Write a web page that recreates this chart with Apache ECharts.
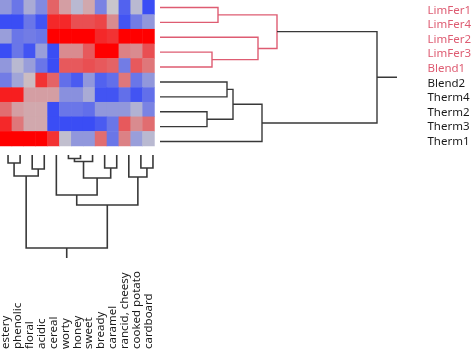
<!DOCTYPE html>
<html>
<head>
<meta charset="utf-8">
<script src="https://cdn.jsdelivr.net/npm/echarts@6/dist/echarts.min.js"></script>
<style>
  html, body { margin: 0; padding: 0; background: #fff; }
  #chart { width: 474px; height: 352px; }
</style>
</head>
<body>
<div id="chart"></div>
<script>
// rows / columns in display order
const rowNames = ['LimFer1', 'LimFer4', 'LimFer2', 'LimFer3', 'Blend1', 'Blend2', 'Therm4', 'Therm2', 'Therm3', 'Therm1']
const colNames = ['estery', 'phenolic', 'floral', 'acidic', 'cereal', 'worty', 'honey', 'sweet', 'bready', 'caramel', 'rancid, cheesy', 'cooked potato', 'cardboard']

// scaled scores, -1 (blue) .. 1 (red), one array per row
const scores = [
  [-0.35, -0.6, -0.2, -0.45, 0.5, 0.2, -0.1, 0.15, -0.5, 0.0, -0.75, -0.1, -0.9],
  [-0.9, -0.9, -0.6, -0.85, 0.8, 0.8, 0.6, 0.6, 0.65, 0.3, -0.85, -0.55, -0.35],
  [-0.3, -0.6, -0.55, -0.6, 1, 1, 1, 1, 0.8, 0.75, 1, 1, 1],
  [-0.9, -0.6, -0.85, -0.3, -0.9, 0.3, 0.3, 0.55, 1, 1, 0.35, 0.3, 0.6],
  [-0.35, -0.1, -0.3, -0.6, -0.9, 0.55, 0.55, 0.6, 0.55, 0.5, -0.55, 0.55, 0.4],
  [-0.55, -0.25, 0.05, 0.75, 0.5, -0.65, -0.8, -0.35, -0.75, -0.65, 0.4, -0.6, -0.35],
  [0.85, 0.85, 0.2, 0.2, 0.2, -0.4, -0.4, -0.2, -0.85, -0.85, -0.65, -0.85, -0.65],
  [0.45, 0.2, 0.15, 0.15, -0.9, -0.6, -0.6, -0.65, -0.35, -0.35, -0.35, -0.15, -0.5],
  [0.8, 0.4, 0.15, 0.15, -0.9, -0.9, -0.9, -0.9, -0.8, -0.6, 0.55, 0.3, 0.45],
  [1, 1, 1, 1, 0.75, -0.05, -0.35, -0.35, 0.45, -0.6, 0.35, -0.3, -0.1]
]

// linkage: [childA, childB, height]; leaves are 0..n-1, merge k is node n+k
const rowLinks = [
  [0, 1, 58], [3, 4, 52], [2, 11, 98], [10, 12, 117],
  [5, 6, 67], [7, 8, 47], [14, 15, 73], [16, 9, 102],
  [13, 17, 217]
]
const colLinks = [
  [0, 1, 8], [2, 3, 14], [13, 14, 21],
  [5, 6, 3.5], [16, 7, 6.5], [8, 9, 13], [17, 18, 23], [4, 19, 40],
  [11, 12, 13], [10, 21, 22], [20, 22, 50],
  [15, 23, 93]
]
const rowStubEnd = 237
const colStubEnd = 103
const redRows = ['LimFer1', 'LimFer4', 'LimFer2', 'LimFer3', 'Blend1']

const RED = '#de5c72'
const DARK = '#383838'

// dendrogram segments in (pos, height) pairs
function dendro(links, n, colorOf) {
  let pos = []
  let h = []
  let leaves = []
  for (let i = 0; i < n; i++) {
    pos[i] = i
    h[i] = 0
    leaves[i] = [i]
  }
  let segs = []
  links.forEach(function (l, k) {
    let a = l[0], b = l[1], node = n + k
    pos[node] = (pos[a] + pos[b]) / 2
    h[node] = l[2]
    leaves[node] = leaves[a].concat(leaves[b])
    segs.push({
      pts: [[pos[a], h[a]], [pos[a], l[2]], [pos[b], l[2]], [pos[b], h[b]]],
      color: colorOf(leaves[node], node === n + links.length - 1)
    })
  })
  let root = n + links.length - 1
  return {segs: segs, rootPos: pos[root], rootH: h[root]}
}

const rowTree = dendro(rowLinks, rowNames.length, function (lv, isRoot) {
  if (isRoot) return DARK
  return lv.every(function (i) { return redRows.indexOf(rowNames[i]) !== -1 }) ? RED : DARK
})
const colTree = dendro(colLinks, colNames.length, function () { return DARK })

let rowLines = rowTree.segs.map(function (s) {
  return {coords: s.pts.map(function (p) { return [p[1], p[0]] }), lineStyle: {color: s.color}}
})
rowLines.push({coords: [[rowTree.rootH, rowTree.rootPos], [rowStubEnd, rowTree.rootPos]], lineStyle: {color: DARK}})

let colLines = colTree.segs.map(function (s) {
  return {coords: s.pts, lineStyle: {color: s.color}}
})
colLines.push({coords: [[colTree.rootPos, colTree.rootH], [colTree.rootPos, colStubEnd]], lineStyle: {color: DARK}})

let heatData = []
scores.forEach(function (row, r) {
  row.forEach(function (v, c) {
    heatData.push([c, r, v])
  })
})

const FONT = 'Noto Sans'
let chart = echarts.init(document.getElementById('chart'))
chart.setOption({
  animation: false,
  grid: [
    {left: 0, top: 0, width: 160, height: 149},
    {left: 160, top: 0, width: 237, height: 149},
    {left: 2, top: 155, width: 157, height: 103}
  ],
  xAxis: [
    {
      type: 'category', gridIndex: 0, data: colNames, position: 'bottom',
      axisLine: {show: false}, axisTick: {show: false}, splitLine: {show: false},
      axisLabel: {
        rotate: 90, interval: 0, align: 'left', verticalAlign: 'middle', margin: 203,
        fontFamily: FONT, fontSize: 11.5, color: '#1a1a1a'
      }
    },
    {type: 'value', gridIndex: 1, min: 0, max: rowStubEnd, show: false},
    {type: 'value', gridIndex: 2, min: -0.5, max: colNames.length - 0.5, show: false}
  ],
  yAxis: [
    {
      type: 'category', gridIndex: 0, data: rowNames, inverse: true, position: 'right',
      axisLine: {show: false}, axisTick: {show: false}, splitLine: {show: false},
      axisLabel: {
        interval: 0, align: 'left', verticalAlign: 'middle', margin: 273,
        formatter: function (v) {
          return (redRows.indexOf(v) !== -1 ? '{r|' : '{k|') + v + '}'
        },
        rich: {
          r: {color: RED, fontFamily: FONT, fontSize: 11.5, padding: [6, 0, 0, 0]},
          k: {color: '#1a1a1a', fontFamily: FONT, fontSize: 11.5, padding: [6, 0, 0, 0]}
        }
      }
    },
    {type: 'value', gridIndex: 1, min: -0.5, max: rowNames.length - 0.5, inverse: true, show: false},
    {type: 'value', gridIndex: 2, min: 0, max: colStubEnd, inverse: true, show: false}
  ],
  visualMap: {
    show: false, min: -1, max: 1, dimension: 2, seriesIndex: 0,
    inRange: {color: ['#2a40fa', '#c9c6cc', '#ff0000']}
  },
  series: [
    {type: 'heatmap', xAxisIndex: 0, yAxisIndex: 0, data: heatData},
    {
      type: 'lines', coordinateSystem: 'cartesian2d', xAxisIndex: 1, yAxisIndex: 1,
      polyline: true, data: rowLines, lineStyle: {width: 1.4, opacity: 1}, silent: true
    },
    {
      type: 'lines', coordinateSystem: 'cartesian2d', xAxisIndex: 2, yAxisIndex: 2,
      polyline: true, data: colLines, lineStyle: {width: 1.6, opacity: 1}, silent: true
    }
  ]
})
</script>
</body>
</html>
